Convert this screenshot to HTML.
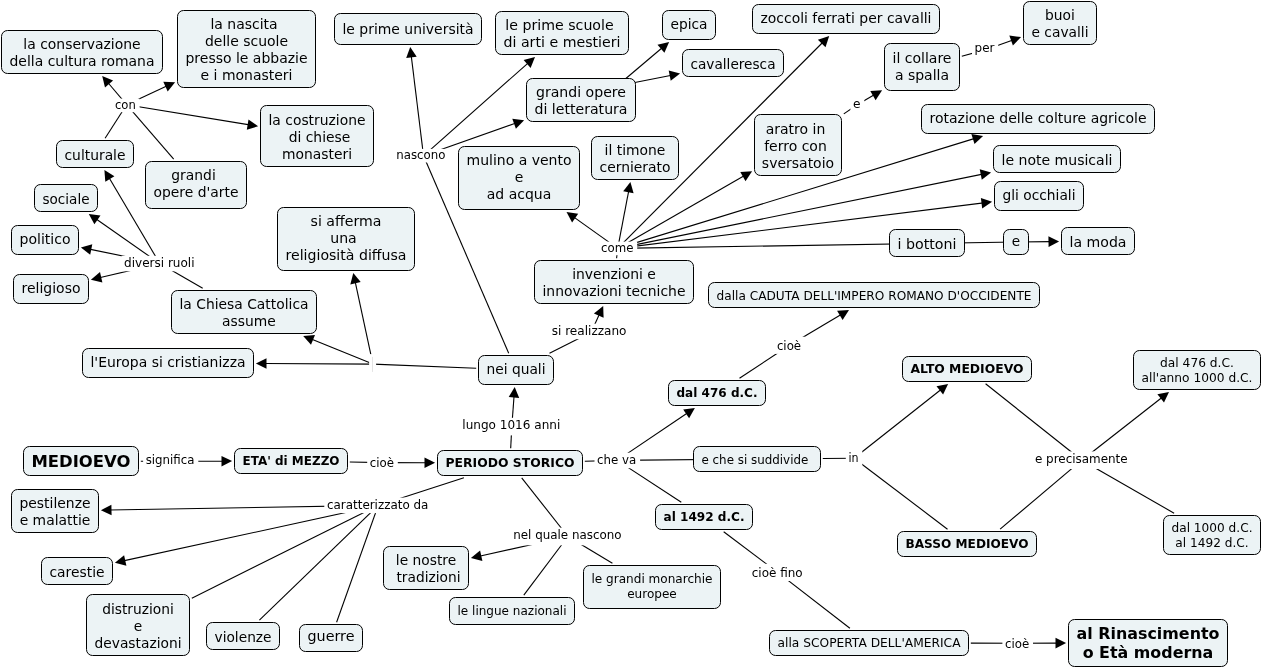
<!DOCTYPE html>
<html lang="it"><head><meta charset="utf-8"><title>Medioevo - mappa concettuale</title>
<style>html,body{margin:0;padding:0;background:#fff}body{width:1263px;height:669px;overflow:hidden}svg{display:block;will-change:transform}text{font-family:"DejaVu Sans","Liberation Sans",sans-serif;fill:#000}.n{fill:#ecf3f5;stroke:#000;stroke-width:1}.l{stroke:#000;stroke-width:1.1;fill:none}.a{fill:#000;stroke:none}.w{fill:#fff;stroke:none}.b{font-weight:bold}</style></head><body>
<svg width="1263" height="669" viewBox="0 0 1263 669">
<g><line class="l" x1="140.8" y1="461.2" x2="170.6" y2="461.3"/><line class="l" x1="170.6" y1="461.3" x2="223.5" y2="461.2"/><line class="l" x1="349.8" y1="462.0" x2="382.4" y2="462.6"/><line class="l" x1="382.4" y1="462.6" x2="426.5" y2="462.7"/><line class="l" x1="510.7" y1="448.2" x2="511.8" y2="426.6"/><line class="l" x1="511.8" y1="426.6" x2="514.1" y2="395.5"/><line class="l" x1="584.8" y1="461.2" x2="617.2" y2="460.4"/><line class="l" x1="617.2" y1="460.4" x2="687.8" y2="412.7"/><line class="l" x1="617.2" y1="460.4" x2="681.3" y2="502.2"/><line class="l" x1="617.2" y1="460.4" x2="757.0" y2="459.0"/><line class="l" x1="822.8" y1="458.5" x2="854.0" y2="458.2"/><line class="l" x1="854.0" y1="458.2" x2="941.4" y2="389.2"/><line class="l" x1="854.0" y1="458.2" x2="947.5" y2="529.2"/><line class="l" x1="985.6" y1="383.8" x2="1081.8" y2="460.2"/><line class="l" x1="1000.1" y1="529.2" x2="1081.8" y2="460.2"/><line class="l" x1="1081.8" y1="460.2" x2="1162.3" y2="397.2"/><line class="l" x1="1081.8" y1="460.2" x2="1174.1" y2="513.2"/><line class="l" x1="739.5" y1="378.2" x2="789.5" y2="345.3"/><line class="l" x1="789.5" y1="345.3" x2="841.6" y2="314.3"/><line class="l" x1="723.7" y1="531.8" x2="777.7" y2="572.4"/><line class="l" x1="777.7" y1="572.4" x2="849.9" y2="628.2"/><line class="l" x1="970.8" y1="643.1" x2="1017.6" y2="643.2"/><line class="l" x1="1017.6" y1="643.2" x2="1057.5" y2="643.1"/><line class="l" x1="463.9" y1="477.8" x2="378.2" y2="505.4"/><line class="l" x1="378.2" y1="505.4" x2="109.5" y2="510.0"/><line class="l" x1="378.2" y1="505.4" x2="123.3" y2="560.9"/><line class="l" x1="378.2" y1="505.4" x2="191.8" y2="598.2"/><line class="l" x1="378.2" y1="505.4" x2="259.4" y2="620.2"/><line class="l" x1="378.2" y1="505.4" x2="336.6" y2="622.2"/><line class="l" x1="521.7" y1="477.8" x2="567.9" y2="536.5"/><line class="l" x1="567.9" y1="536.5" x2="479.3" y2="556.2"/><line class="l" x1="567.9" y1="536.5" x2="523.8" y2="595.2"/><line class="l" x1="567.9" y1="536.5" x2="612.4" y2="563.2"/><line class="l" x1="549.5" y1="353.2" x2="591.2" y2="332.2"/><line class="l" x1="591.2" y1="332.2" x2="599.6" y2="313.7"/><line class="l" x1="616.6" y1="258.2" x2="617.7" y2="248.4"/><line class="l" x1="617.7" y1="248.4" x2="1016.0" y2="242.0"/><line class="l" x1="617.7" y1="248.4" x2="573.5" y2="216.9"/><line class="l" x1="617.7" y1="248.4" x2="628.8" y2="190.3"/><line class="l" x1="617.7" y1="248.4" x2="823.1" y2="42.0"/><line class="l" x1="617.7" y1="248.4" x2="744.6" y2="175.6"/><line class="l" x1="617.7" y1="248.4" x2="974.9" y2="138.4"/><line class="l" x1="617.7" y1="248.4" x2="982.7" y2="174.1"/><line class="l" x1="617.7" y1="248.4" x2="983.6" y2="202.9"/><line class="l" x1="1016.0" y1="242.0" x2="1050.5" y2="241.6"/><line class="l" x1="843.8" y1="113.9" x2="857.2" y2="104.8"/><line class="l" x1="857.2" y1="104.8" x2="874.7" y2="94.6"/><line class="l" x1="961.8" y1="56.2" x2="985.0" y2="49.9"/><line class="l" x1="985.0" y1="49.9" x2="1013.0" y2="39.9"/><line class="l" x1="508.7" y1="353.2" x2="423.5" y2="155.8"/><line class="l" x1="423.5" y1="155.8" x2="411.2" y2="55.4"/><line class="l" x1="423.5" y1="155.8" x2="528.6" y2="62.6"/><line class="l" x1="423.5" y1="155.8" x2="516.0" y2="123.0"/><line class="l" x1="617.0" y1="86.0" x2="662.5" y2="47.5"/><line class="l" x1="617.0" y1="86.0" x2="671.7" y2="75.2"/><line class="l" x1="476.2" y1="368.3" x2="372.9" y2="364.1"/><line class="l" x1="372.9" y1="364.1" x2="264.5" y2="363.5"/><line class="l" x1="372.9" y1="364.1" x2="311.2" y2="339.1"/><line class="l" x1="372.9" y1="364.1" x2="355.1" y2="281.3"/><line class="l" x1="202.7" y1="288.2" x2="159.8" y2="263.6"/><line class="l" x1="159.8" y1="263.6" x2="89.3" y2="249.1"/><line class="l" x1="159.8" y1="263.6" x2="99.3" y2="277.7"/><line class="l" x1="159.8" y1="263.6" x2="95.8" y2="218.8"/><line class="l" x1="159.8" y1="263.6" x2="108.8" y2="177.3"/><line class="l" x1="105.1" y1="138.2" x2="126.6" y2="104.7"/><line class="l" x1="126.6" y1="104.7" x2="107.8" y2="82.5"/><line class="l" x1="126.6" y1="104.7" x2="167.3" y2="85.8"/><line class="l" x1="126.6" y1="104.7" x2="249.6" y2="124.9"/><line class="l" x1="126.6" y1="104.7" x2="173.7" y2="159.2"/></g>
<g><rect class="w" x="112.4" y="98.6" width="27.2" height="13.6"/><text x="125.4" y="108.6" font-size="12" text-anchor="middle" textLength="20.8" lengthAdjust="spacingAndGlyphs">con</text><rect class="w" x="393.6" y="148.9" width="55.6" height="13.6"/><text x="420.8" y="158.9" font-size="12" text-anchor="middle" textLength="49.2" lengthAdjust="spacingAndGlyphs">nascono</text><rect class="w" x="598.4" y="241.6" width="38.8" height="13.6"/><text x="617.2" y="251.6" font-size="12" text-anchor="middle" textLength="32.4" lengthAdjust="spacingAndGlyphs">come</text><rect class="w" x="121.5" y="255.8" width="76.9" height="15.5"/><text x="159.3" y="267.1" font-size="12" text-anchor="middle" textLength="70.5" lengthAdjust="spacingAndGlyphs">diversi ruoli</text><rect class="w" x="549.1" y="323.7" width="81.2" height="15.5"/><text x="589.1" y="335.0" font-size="12" text-anchor="middle" textLength="74.8" lengthAdjust="spacingAndGlyphs">si realizzano</text><rect class="w" x="774.3" y="336.7" width="30.6" height="17.2"/><text x="789.0" y="349.7" font-size="12" text-anchor="middle" textLength="24.2" lengthAdjust="spacingAndGlyphs">cioè</text><rect class="w" x="459.7" y="417.8" width="104.4" height="17.6"/><text x="511.3" y="429.1" font-size="12" text-anchor="middle" textLength="98.0" lengthAdjust="spacingAndGlyphs">lungo 1016 anni</text><rect class="w" x="143.1" y="452.5" width="55.2" height="17.6"/><text x="170.1" y="463.8" font-size="12" text-anchor="middle" textLength="48.8" lengthAdjust="spacingAndGlyphs">significa</text><rect class="w" x="367.2" y="454.0" width="30.6" height="17.2"/><text x="381.9" y="467.0" font-size="12" text-anchor="middle" textLength="24.2" lengthAdjust="spacingAndGlyphs">cioè</text><rect class="w" x="594.5" y="452.7" width="45.6" height="15.5"/><text x="616.7" y="464.0" font-size="12" text-anchor="middle" textLength="39.2" lengthAdjust="spacingAndGlyphs">che va</text><rect class="w" x="845.8" y="450.5" width="16.5" height="15.5"/><text x="853.5" y="461.8" font-size="12" text-anchor="middle" textLength="10.1" lengthAdjust="spacingAndGlyphs">in</text><rect class="w" x="1032.4" y="451.4" width="99.1" height="17.6"/><text x="1081.3" y="462.7" font-size="12" text-anchor="middle" textLength="92.7" lengthAdjust="spacingAndGlyphs">e precisamente</text><rect class="w" x="324.3" y="497.6" width="107.9" height="15.5"/><text x="377.7" y="508.9" font-size="12" text-anchor="middle" textLength="101.5" lengthAdjust="spacingAndGlyphs">caratterizzato da</text><rect class="w" x="510.6" y="527.7" width="114.8" height="17.6"/><text x="567.4" y="539.0" font-size="12" text-anchor="middle" textLength="108.4" lengthAdjust="spacingAndGlyphs">nel quale nascono</text><rect class="w" x="749.1" y="563.8" width="57.3" height="17.2"/><text x="777.2" y="576.8" font-size="12" text-anchor="middle" textLength="50.9" lengthAdjust="spacingAndGlyphs">cioè fino</text><rect class="w" x="1002.4" y="634.6" width="30.6" height="17.2"/><text x="1017.1" y="647.6" font-size="12" text-anchor="middle" textLength="24.2" lengthAdjust="spacingAndGlyphs">cioè</text><rect class="w" x="850.4" y="98.0" width="13.9" height="13.6"/><text x="856.8" y="108.0" font-size="12" text-anchor="middle" textLength="7.5" lengthAdjust="spacingAndGlyphs">e</text><rect class="w" x="972.0" y="41.8" width="26.2" height="16.3"/><text x="984.5" y="51.8" font-size="12" text-anchor="middle" textLength="19.8" lengthAdjust="spacingAndGlyphs">per</text><rect class="w" x="369.1" y="354.1" width="7.0" height="20.0"/><rect x="372.0" y="356.9" width="1" height="15" fill="#e4e4e4"/></g>
<g><polygon class="a" points="232.1,461.1 221.5,466.5 221.5,455.9"/><polygon class="a" points="435.1,462.8 424.5,468.0 424.5,457.4"/><polygon class="a" points="514.7,386.9 519.2,397.9 508.7,397.1"/><polygon class="a" points="694.9,407.9 689.1,418.2 683.2,409.4"/><polygon class="a" points="948.1,383.9 943.1,394.6 936.5,386.3"/><polygon class="a" points="1169.0,391.9 1164.0,402.6 1157.4,394.3"/><polygon class="a" points="849.0,309.9 842.6,319.9 837.1,310.8"/><polygon class="a" points="1066.1,643.1 1055.5,648.4 1055.5,637.8"/><polygon class="a" points="100.9,510.2 111.4,504.7 111.6,515.3"/><polygon class="a" points="114.9,562.7 124.1,555.3 126.4,565.7"/><polygon class="a" points="470.9,558.0 480.1,550.5 482.4,560.9"/><polygon class="a" points="603.2,305.9 603.6,317.7 593.9,313.4"/><polygon class="a" points="566.5,211.9 578.2,213.7 572.1,222.4"/><polygon class="a" points="630.4,181.9 633.6,193.3 623.2,191.3"/><polygon class="a" points="829.2,35.9 825.5,47.2 817.9,39.7"/><polygon class="a" points="752.1,171.3 745.5,181.2 740.3,172.0"/><polygon class="a" points="983.1,135.9 974.5,144.1 971.4,134.0"/><polygon class="a" points="991.1,172.4 981.8,179.7 979.7,169.3"/><polygon class="a" points="992.1,201.8 982.2,208.4 980.9,197.9"/><polygon class="a" points="1059.1,241.5 1048.6,246.9 1048.4,236.3"/><polygon class="a" points="882.1,90.3 875.6,100.2 870.3,91.1"/><polygon class="a" points="1021.1,37.0 1012.9,45.6 1009.3,35.6"/><polygon class="a" points="410.2,46.9 416.7,56.8 406.2,58.1"/><polygon class="a" points="535.0,56.9 530.6,67.9 523.6,60.0"/><polygon class="a" points="524.1,120.2 515.9,128.7 512.3,118.7"/><polygon class="a" points="669.1,41.9 664.4,52.8 657.5,44.7"/><polygon class="a" points="680.1,73.5 670.7,80.7 668.7,70.4"/><polygon class="a" points="255.9,363.5 266.5,358.2 266.5,368.8"/><polygon class="a" points="303.2,335.9 315.0,335.0 311.0,344.8"/><polygon class="a" points="353.3,272.9 360.7,282.1 350.3,284.4"/><polygon class="a" points="80.9,247.4 92.3,244.3 90.2,254.7"/><polygon class="a" points="90.9,279.7 100.0,272.1 102.4,282.4"/><polygon class="a" points="88.8,213.9 100.5,215.6 94.4,224.3"/><polygon class="a" points="104.4,169.9 114.4,176.3 105.3,181.7"/><polygon class="a" points="102.2,75.9 113.1,80.6 105.0,87.4"/><polygon class="a" points="175.1,82.2 167.7,91.4 163.3,81.8"/><polygon class="a" points="258.1,126.3 246.8,129.8 248.5,119.4"/></g>
<g><rect class="n" x="1.5" y="30.5" width="161.0" height="43.0" rx="6" ry="6"/><text x="82.0" y="49.4" font-size="14" text-anchor="middle" textLength="117.4" lengthAdjust="spacingAndGlyphs">la conservazione</text><text x="82.0" y="66.4" font-size="14" text-anchor="middle" textLength="145.0" lengthAdjust="spacingAndGlyphs">della cultura romana</text><rect class="n" x="177.5" y="10.5" width="138.0" height="77.0" rx="6" ry="6"/><text x="244.0" y="29.4" font-size="14" text-anchor="middle" textLength="67.2" lengthAdjust="spacingAndGlyphs">la nascita</text><text x="246.5" y="46.4" font-size="14" text-anchor="middle" textLength="83.1" lengthAdjust="spacingAndGlyphs">delle scuole</text><text x="246.5" y="63.4" font-size="14" text-anchor="middle" textLength="122.0" lengthAdjust="spacingAndGlyphs">presso le abbazie</text><text x="246.5" y="80.4" font-size="14" text-anchor="middle" textLength="91.9" lengthAdjust="spacingAndGlyphs">e i monasteri</text><rect class="n" x="334.5" y="13.5" width="147.0" height="31.0" rx="6" ry="6"/><text x="408.0" y="33.6" font-size="14" text-anchor="middle" textLength="131.0" lengthAdjust="spacingAndGlyphs">le prime università</text><rect class="n" x="495.5" y="11.5" width="133.0" height="43.0" rx="6" ry="6"/><text x="559.5" y="30.4" font-size="14" text-anchor="middle" textLength="108.4" lengthAdjust="spacingAndGlyphs">le prime scuole</text><text x="562.0" y="47.4" font-size="14" text-anchor="middle" textLength="117.0" lengthAdjust="spacingAndGlyphs">di arti e mestieri</text><rect class="n" x="662.5" y="10.5" width="53.0" height="29.0" rx="6" ry="6"/><text x="689.0" y="28.5" font-size="14" text-anchor="middle" textLength="37.0" lengthAdjust="spacingAndGlyphs">epica</text><rect class="n" x="682.5" y="49.5" width="101.0" height="27.0" rx="6" ry="6"/><text x="733.0" y="68.9" font-size="14" text-anchor="middle" textLength="85.0" lengthAdjust="spacingAndGlyphs">cavalleresca</text><rect class="n" x="526.5" y="78.5" width="109.0" height="43.0" rx="6" ry="6"/><text x="581.0" y="97.4" font-size="14" text-anchor="middle" textLength="90.1" lengthAdjust="spacingAndGlyphs">grandi opere</text><text x="581.0" y="114.4" font-size="14" text-anchor="middle" textLength="93.0" lengthAdjust="spacingAndGlyphs">di letteratura</text><rect class="n" x="458.5" y="146.5" width="121.0" height="63.0" rx="6" ry="6"/><text x="519.0" y="164.5" font-size="14" text-anchor="middle" textLength="105.0" lengthAdjust="spacingAndGlyphs">mulino a vento</text><text x="519.0" y="181.5" font-size="14" text-anchor="middle" textLength="8.6" lengthAdjust="spacingAndGlyphs">e</text><text x="519.0" y="198.5" font-size="14" text-anchor="middle" textLength="64.5" lengthAdjust="spacingAndGlyphs">ad acqua</text><rect class="n" x="591.5" y="136.5" width="87.0" height="43.0" rx="6" ry="6"/><text x="635.0" y="155.4" font-size="14" text-anchor="middle" textLength="60.8" lengthAdjust="spacingAndGlyphs">il timone</text><text x="635.0" y="172.4" font-size="14" text-anchor="middle" textLength="71.0" lengthAdjust="spacingAndGlyphs">cernierato</text><rect class="n" x="752.5" y="4.5" width="187.0" height="29.0" rx="6" ry="6"/><text x="846.0" y="22.5" font-size="14" text-anchor="middle" textLength="171.0" lengthAdjust="spacingAndGlyphs">zoccoli ferrati per cavalli</text><rect class="n" x="754.5" y="114.5" width="87.0" height="61.0" rx="6" ry="6"/><text x="795.5" y="133.9" font-size="14" text-anchor="middle" textLength="59.6" lengthAdjust="spacingAndGlyphs">aratro in</text><text x="795.5" y="150.9" font-size="14" text-anchor="middle" textLength="62.6" lengthAdjust="spacingAndGlyphs">ferro con</text><text x="798.0" y="167.9" font-size="14" text-anchor="middle" textLength="72.3" lengthAdjust="spacingAndGlyphs">sversatoio</text><rect class="n" x="884.5" y="43.5" width="75.0" height="47.0" rx="6" ry="6"/><text x="922.0" y="62.5" font-size="14" text-anchor="middle" textLength="59.0" lengthAdjust="spacingAndGlyphs">il collare</text><text x="922.0" y="79.5" font-size="14" text-anchor="middle" textLength="54.2" lengthAdjust="spacingAndGlyphs">a spalla</text><rect class="n" x="1023.5" y="1.5" width="73.0" height="43.0" rx="6" ry="6"/><text x="1060.0" y="20.4" font-size="14" text-anchor="middle" textLength="29.8" lengthAdjust="spacingAndGlyphs">buoi</text><text x="1060.0" y="37.4" font-size="14" text-anchor="middle" textLength="57.0" lengthAdjust="spacingAndGlyphs">e cavalli</text><rect class="n" x="921.5" y="104.5" width="233.0" height="29.0" rx="6" ry="6"/><text x="1038.0" y="122.5" font-size="14" text-anchor="middle" textLength="217.0" lengthAdjust="spacingAndGlyphs">rotazione delle colture agricole</text><rect class="n" x="993.5" y="145.5" width="127.0" height="27.0" rx="6" ry="6"/><text x="1057.0" y="164.9" font-size="14" text-anchor="middle" textLength="111.0" lengthAdjust="spacingAndGlyphs">le note musicali</text><rect class="n" x="994.5" y="181.5" width="89.0" height="29.0" rx="6" ry="6"/><text x="1039.0" y="199.5" font-size="14" text-anchor="middle" textLength="73.0" lengthAdjust="spacingAndGlyphs">gli occhiali</text><rect class="n" x="889.5" y="229.5" width="75.0" height="27.0" rx="6" ry="6"/><text x="927.0" y="248.9" font-size="14" text-anchor="middle" textLength="59.0" lengthAdjust="spacingAndGlyphs">i bottoni</text><rect class="n" x="1003.5" y="229.5" width="25.0" height="25.0" rx="6" ry="6"/><text x="1016.0" y="245.7" font-size="14" text-anchor="middle" textLength="8.4" lengthAdjust="spacingAndGlyphs">e</text><rect class="n" x="1061.5" y="227.5" width="73.0" height="27.0" rx="6" ry="6"/><text x="1098.0" y="246.9" font-size="14" text-anchor="middle" textLength="57.0" lengthAdjust="spacingAndGlyphs">la moda</text><rect class="n" x="708.5" y="282.5" width="331.0" height="25.0" rx="6" ry="6"/><text x="874.0" y="299.5" font-size="12" text-anchor="middle" textLength="315.0" lengthAdjust="spacingAndGlyphs">dalla CADUTA DELL'IMPERO ROMANO D'OCCIDENTE</text><rect class="n" x="902.5" y="356.5" width="129.0" height="25.0" rx="6" ry="6"/><text x="967.0" y="373.0" font-size="12" class="b" text-anchor="middle" textLength="113.0" lengthAdjust="spacingAndGlyphs">ALTO MEDIOEVO</text><rect class="n" x="1133.5" y="350.5" width="127.0" height="39.0" rx="6" ry="6"/><text x="1197.0" y="367.0" font-size="12" text-anchor="middle" textLength="73.8" lengthAdjust="spacingAndGlyphs">dal 476 d.C.</text><text x="1197.0" y="382.0" font-size="12" text-anchor="middle" textLength="111.0" lengthAdjust="spacingAndGlyphs">all'anno 1000 d.C.</text><rect class="n" x="11.5" y="225.5" width="67.0" height="29.0" rx="6" ry="6"/><text x="45.0" y="243.5" font-size="14" text-anchor="middle" textLength="51.0" lengthAdjust="spacingAndGlyphs">politico</text><rect class="n" x="13.5" y="274.5" width="75.0" height="29.0" rx="6" ry="6"/><text x="51.0" y="292.5" font-size="14" text-anchor="middle" textLength="59.0" lengthAdjust="spacingAndGlyphs">religioso</text><rect class="n" x="171.5" y="290.5" width="145.0" height="43.0" rx="6" ry="6"/><text x="244.0" y="309.4" font-size="14" text-anchor="middle" textLength="129.0" lengthAdjust="spacingAndGlyphs">la Chiesa Cattolica</text><text x="248.9" y="326.4" font-size="14" text-anchor="middle" textLength="53.7" lengthAdjust="spacingAndGlyphs">assume</text><rect class="n" x="82.5" y="348.5" width="171.0" height="29.0" rx="6" ry="6"/><text x="168.0" y="366.5" font-size="14" text-anchor="middle" textLength="155.0" lengthAdjust="spacingAndGlyphs">l'Europa si cristianizza</text><rect class="n" x="277.5" y="207.5" width="137.0" height="63.0" rx="6" ry="6"/><text x="346.0" y="225.5" font-size="14" text-anchor="middle" textLength="70.8" lengthAdjust="spacingAndGlyphs">si afferma</text><text x="343.5" y="242.5" font-size="14" text-anchor="middle" textLength="26.5" lengthAdjust="spacingAndGlyphs">una</text><text x="346.0" y="259.5" font-size="14" text-anchor="middle" textLength="121.0" lengthAdjust="spacingAndGlyphs">religiosità diffusa</text><rect class="n" x="56.5" y="140.5" width="77.0" height="27.0" rx="6" ry="6"/><text x="95.0" y="159.9" font-size="14" text-anchor="middle" textLength="61.0" lengthAdjust="spacingAndGlyphs">culturale</text><rect class="n" x="145.5" y="161.5" width="101.0" height="47.0" rx="6" ry="6"/><text x="193.5" y="180.0" font-size="14" text-anchor="middle" textLength="44.5" lengthAdjust="spacingAndGlyphs">grandi</text><text x="196.0" y="197.0" font-size="14" text-anchor="middle" textLength="85.0" lengthAdjust="spacingAndGlyphs">opere d'arte</text><rect class="n" x="34.5" y="184.5" width="63.0" height="27.0" rx="6" ry="6"/><text x="66.0" y="203.9" font-size="14" text-anchor="middle" textLength="47.0" lengthAdjust="spacingAndGlyphs">sociale</text><rect class="n" x="260.5" y="105.5" width="113.0" height="61.0" rx="6" ry="6"/><text x="317.0" y="124.9" font-size="14" text-anchor="middle" textLength="97.0" lengthAdjust="spacingAndGlyphs">la costruzione</text><text x="319.5" y="141.9" font-size="14" text-anchor="middle" textLength="61.6" lengthAdjust="spacingAndGlyphs">di chiese</text><text x="317.0" y="158.9" font-size="14" text-anchor="middle" textLength="70.1" lengthAdjust="spacingAndGlyphs">monasteri</text><rect class="n" x="534.5" y="260.5" width="159.0" height="43.0" rx="6" ry="6"/><text x="614.0" y="278.6" font-size="14" text-anchor="middle" textLength="83.7" lengthAdjust="spacingAndGlyphs">invenzioni e</text><text x="614.0" y="295.6" font-size="14" text-anchor="middle" textLength="143.0" lengthAdjust="spacingAndGlyphs">innovazioni tecniche</text><rect class="n" x="478.5" y="355.5" width="75.0" height="29.0" rx="6" ry="6"/><text x="516.0" y="373.5" font-size="14" text-anchor="middle" textLength="59.0" lengthAdjust="spacingAndGlyphs">nei quali</text><rect class="n" x="668.5" y="380.5" width="97.0" height="25.0" rx="6" ry="6"/><text x="717.0" y="397.2" font-size="12" class="b" text-anchor="middle" textLength="81.0" lengthAdjust="spacingAndGlyphs">dal 476 d.C.</text><rect class="n" x="23.5" y="446.5" width="115.0" height="29.0" rx="6" ry="6"/><text x="81.0" y="466.7" font-size="16" class="b" text-anchor="middle" textLength="99.0" lengthAdjust="spacingAndGlyphs">MEDIOEVO</text><rect class="n" x="234.5" y="448.5" width="113.0" height="25.0" rx="6" ry="6"/><text x="291.0" y="465.2" font-size="12" class="b" text-anchor="middle" textLength="97.0" lengthAdjust="spacingAndGlyphs">ETA' di MEZZO</text><rect class="n" x="11.5" y="489.5" width="87.0" height="43.0" rx="6" ry="6"/><text x="55.0" y="508.4" font-size="14" text-anchor="middle" textLength="71.0" lengthAdjust="spacingAndGlyphs">pestilenze</text><text x="55.0" y="525.4" font-size="14" text-anchor="middle" textLength="70.7" lengthAdjust="spacingAndGlyphs">e malattie</text><rect class="n" x="41.5" y="557.5" width="71.0" height="27.0" rx="6" ry="6"/><text x="77.0" y="576.9" font-size="14" text-anchor="middle" textLength="55.0" lengthAdjust="spacingAndGlyphs">carestie</text><rect class="n" x="86.5" y="594.5" width="103.0" height="61.0" rx="6" ry="6"/><text x="138.0" y="613.9" font-size="14" text-anchor="middle" textLength="71.7" lengthAdjust="spacingAndGlyphs">distruzioni</text><text x="138.0" y="630.9" font-size="14" text-anchor="middle" textLength="8.5" lengthAdjust="spacingAndGlyphs">e</text><text x="138.0" y="647.9" font-size="14" text-anchor="middle" textLength="87.0" lengthAdjust="spacingAndGlyphs">devastazioni</text><rect class="n" x="206.5" y="622.5" width="73.0" height="27.0" rx="6" ry="6"/><text x="243.0" y="641.9" font-size="14" text-anchor="middle" textLength="57.0" lengthAdjust="spacingAndGlyphs">violenze</text><rect class="n" x="299.5" y="624.5" width="63.0" height="27.0" rx="6" ry="6"/><text x="331.0" y="640.8" font-size="14" text-anchor="middle" textLength="47.0" lengthAdjust="spacingAndGlyphs">guerre</text><rect class="n" x="383.5" y="546.5" width="85.0" height="43.0" rx="6" ry="6"/><text x="426.0" y="565.4" font-size="14" text-anchor="middle" textLength="60.3" lengthAdjust="spacingAndGlyphs">le nostre</text><text x="428.5" y="582.4" font-size="14" text-anchor="middle" textLength="64.1" lengthAdjust="spacingAndGlyphs">tradizioni</text><rect class="n" x="437.5" y="450.5" width="145.0" height="25.0" rx="6" ry="6"/><text x="510.0" y="467.0" font-size="12" class="b" text-anchor="middle" textLength="129.0" lengthAdjust="spacingAndGlyphs">PERIODO STORICO</text><rect class="n" x="693.5" y="446.5" width="127.0" height="25.0" rx="6" ry="6"/><text x="754.9" y="463.5" font-size="12" text-anchor="middle" textLength="106.8" lengthAdjust="spacingAndGlyphs">e che si suddivide</text><rect class="n" x="655.5" y="504.5" width="97.0" height="25.0" rx="6" ry="6"/><text x="704.0" y="521.0" font-size="12" class="b" text-anchor="middle" textLength="81.0" lengthAdjust="spacingAndGlyphs">al 1492 d.C.</text><rect class="n" x="583.5" y="565.5" width="137.0" height="43.0" rx="6" ry="6"/><text x="652.0" y="582.8" font-size="12" text-anchor="middle" textLength="121.0" lengthAdjust="spacingAndGlyphs">le grandi monarchie</text><text x="652.0" y="597.8" font-size="12" text-anchor="middle" textLength="49.6" lengthAdjust="spacingAndGlyphs">europee</text><rect class="n" x="449.5" y="597.5" width="125.0" height="27.0" rx="6" ry="6"/><text x="512.0" y="614.7" font-size="12" text-anchor="middle" textLength="109.0" lengthAdjust="spacingAndGlyphs">le lingue nazionali</text><rect class="n" x="769.5" y="630.5" width="199.0" height="25.0" rx="6" ry="6"/><text x="869.0" y="646.9" font-size="12" text-anchor="middle" textLength="183.0" lengthAdjust="spacingAndGlyphs">alla SCOPERTA DELL'AMERICA</text><rect class="n" x="897.5" y="531.5" width="139.0" height="25.0" rx="6" ry="6"/><text x="967.0" y="548.0" font-size="12" class="b" text-anchor="middle" textLength="123.0" lengthAdjust="spacingAndGlyphs">BASSO MEDIOEVO</text><rect class="n" x="1163.5" y="515.5" width="97.0" height="39.0" rx="6" ry="6"/><text x="1212.0" y="532.0" font-size="12" text-anchor="middle" textLength="81.0" lengthAdjust="spacingAndGlyphs">dal 1000 d.C.</text><text x="1212.0" y="547.0" font-size="12" text-anchor="middle" textLength="73.3" lengthAdjust="spacingAndGlyphs">al 1492 d.C.</text><rect class="n" x="1068.5" y="619.5" width="159.0" height="47.0" rx="6" ry="6"/><text x="1148.0" y="638.7" font-size="16" class="b" text-anchor="middle" textLength="143.0" lengthAdjust="spacingAndGlyphs">al Rinascimento</text><text x="1148.0" y="657.7" font-size="16" class="b" text-anchor="middle" textLength="130.7" lengthAdjust="spacingAndGlyphs">o Età moderna</text></g>
</svg></body></html>
